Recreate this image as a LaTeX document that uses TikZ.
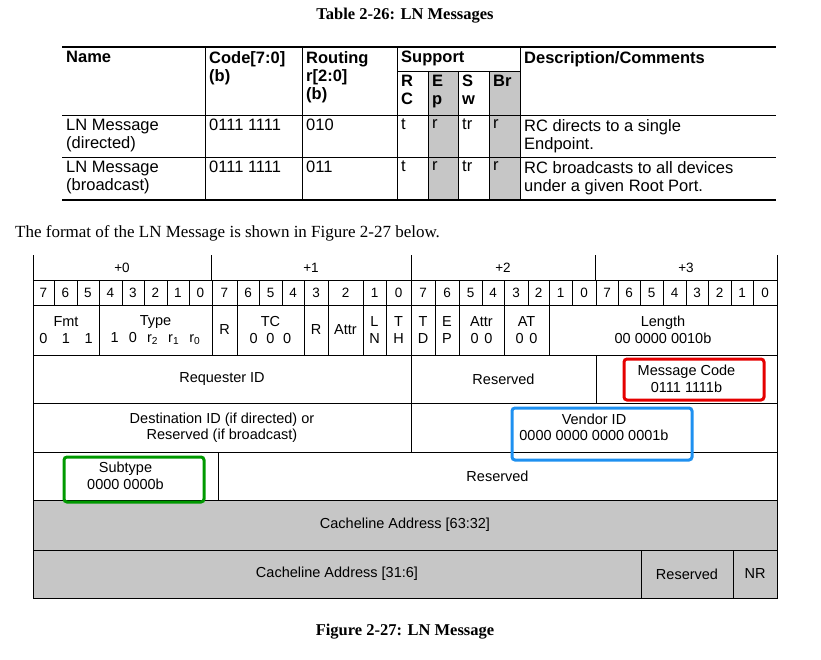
\documentclass[tikz,border=0pt]{standalone}
\usepackage{fontspec}
\setmainfont{Liberation Serif}
\setsansfont{Liberation Sans}
\definecolor{bluebox}{RGB}{30,144,240}
\begin{document}
\begin{tikzpicture}[x=1pt,y=-1pt,
  cell/.style={draw,line width=0.9pt,inner sep=0pt,align=center,font=\sffamily\fontsize{14.5}{16.5}\selectfont},
  bit/.style={inner sep=0pt,font=\sffamily\fontsize{13.5}{15}\selectfont},
  tt/.style={anchor=north west,inner sep=0pt,align=left,font=\sffamily\fontsize{16.5}{18}\selectfont},
  th/.style={tt,font=\sffamily\bfseries\fontsize{16.5}{18}\selectfont},
  hl/.style={line width=3pt,rounded corners=3pt}]
\newcommand\cell[7]{\pgfmathsetmacro\cw{#4-#2}\pgfmathsetmacro\ch{#5-#3}%
  \node[cell,#6,minimum width=\cw pt,minimum height=\ch pt] (#1) at ({(#2+#4)/2},{(#3+#5)/2}) {#7};}
\useasboundingbox (0,0) rectangle (821,660);
% ---- table
\node[font=\bfseries\fontsize{16.5}{18}\selectfont] (tcap) at (405,16) {Table 2-26: LN Messages};
\fill[gray!45] (428,71) rectangle (458,200);
\fill[gray!45] (489,71) rectangle (520,200);
\draw[line width=1.2pt] (62,47) -- (776,47);
\draw[line width=1.2pt] (62,200) -- (776,200);
\draw[line width=0.8pt] (62,115) -- (776,115) (62,157) -- (776,157) (397,71) -- (520,71);
\foreach \x in {205,302,397,520} \draw[line width=0.8pt] (\x,47) -- (\x,200);
\foreach \x in {428,458,489} \draw[line width=0.8pt] (\x,71) -- (\x,200);
\node[th] (h1) at (66,51) {Name};
\node[th] (h2) at (209,51) {Code[7:0]\\(b)};
\node[th] (h3) at (306,51) {Routing\\r[2:0]\\(b)};
\node[th] (h4) at (401,51) {Support};
\node[th] (h5) at (524,51) {Description/Comments};
\node[th] (s1) at (401,75) {R\\C};
\node[th] (s2) at (432,75) {E\\p};
\node[th] (s3) at (462,75) {S\\w};
\node[th] (s4) at (493,75) {Br};
\node[tt] (a1) at (66,119) {LN Message\\(directed)};
\node[tt] (a2) at (209,119) {0111 1111};
\node[tt] (a3) at (306,119) {010};
\node[tt] (a4) at (401,119) {t};
\node[tt] (a5) at (432,119) {r};
\node[tt] (a6) at (462,119) {tr};
\node[tt] (a7) at (493,119) {r};
\node[tt] (a8) at (524,119) {RC directs to a single\\Endpoint.};
\node[tt] (b1) at (66,161) {LN Message\\(broadcast)};
\node[tt] (b2) at (209,161) {0111 1111};
\node[tt] (b3) at (306,161) {011};
\node[tt] (b4) at (401,161) {t};
\node[tt] (b5) at (432,161) {r};
\node[tt] (b6) at (462,161) {tr};
\node[tt] (b7) at (493,161) {r};
\node[tt] (b8) at (524,161) {RC broadcasts to all devices\\under a given Root Port.};
\node[anchor=west,inner sep=0pt,font=\fontsize{17}{19}\selectfont] (para) at (15,233) {The format of the LN Message is shown in Figure 2-27 below.};
% ---- figure
\foreach \x in {33,211,411,595,777} \draw[line width=0.9pt] (\x,255) -- (\x,280);
\node[bit] (p0) at (122,268) {+0};
\node[bit] (p1) at (311,268) {+1};
\node[bit] (p2) at (503,268) {+2};
\node[bit] (p3) at (686,268) {+3};
\def\bx{{33,54,77,99,122,144,167,189,212,237,259,282,304,328,363,386,411,435,459,482,504,528,549,572,596,618,640,663,686,708,731,753,777}}
\foreach \i in {0,...,31}{
  \pgfmathsetmacro\xa{\bx[\i]}\pgfmathsetmacro\xb{\bx[\i+1]}\pgfmathtruncatemacro\bn{7-mod(\i,8)}
  \cell{bit\i}{\xa}{280}{\xb}{305}{font=\sffamily\fontsize{13.5}{15}\selectfont}{\bn}}
\cell{fmt}{33}{305}{99}{355}{}{Fmt\\0\hspace{1em}1\hspace{1em}1}
\cell{type}{99}{305}{212}{355}{}{Type\\1\hspace{0.7em}0\hspace{0.7em}r\textsubscript{2}\hspace{0.7em}r\textsubscript{1}\hspace{0.7em}r\textsubscript{0}}
\cell{r1}{212}{305}{237}{355}{}{R}
\cell{tc}{237}{305}{304}{355}{}{TC\\0\hspace{0.6em}0\hspace{0.6em}0}
\cell{r2}{304}{305}{328}{355}{}{R}
\cell{attr}{328}{305}{363}{355}{}{Attr}
\cell{ln}{363}{305}{386}{355}{}{L\\N}
\cell{th}{386}{305}{411}{355}{}{T\\H}
\cell{td}{411}{305}{435}{355}{}{T\\D}
\cell{ep}{435}{305}{459}{355}{}{E\\P}
\cell{attr2}{459}{305}{504}{355}{}{Attr\\0\hspace{0.4em}0}
\cell{at}{504}{305}{549}{355}{}{AT\\0\hspace{0.4em}0}
\cell{len}{549}{305}{777}{355}{}{Length\\00 0000 0010b}
\cell{req}{33}{355}{411}{403}{}{Requester ID}
\cell{res1}{411}{355}{596}{403}{}{Reserved}
\cell{mc}{596}{355}{777}{403}{}{Message Code\\0111 1111b}
\cell{dest}{33}{403}{411}{452}{}{Destination ID (if directed) or\\Reserved (if broadcast)}
\cell{vid}{411}{403}{777}{452}{}{Vendor ID\\0000 0000 0000 0001b}
\cell{sub}{33}{452}{218}{500}{}{Subtype\\0000 0000b}
\cell{res2}{218}{452}{777}{500}{}{Reserved}
\cell{ca1}{33}{500}{777}{550}{fill=gray!45}{Cacheline Address [63:32]}
\cell{ca2}{33}{550}{641}{598}{fill=gray!45}{Cacheline Address [31:6]}
\cell{res3}{641}{550}{733}{598}{fill=gray!45}{Reserved}
\cell{nr}{733}{550}{777}{598}{fill=gray!45}{NR}
\draw[hl,red!90!black] (624,359) rectangle (764,400);
\draw[hl,bluebox] (512,408) rectangle (692,460);
\draw[hl,green!60!black] (64,457) rectangle (204,502);
\node[font=\bfseries\fontsize{16.5}{18}\selectfont] (fcap) at (405,632) {Figure 2-27: LN Message};
\end{tikzpicture}
\end{document}
